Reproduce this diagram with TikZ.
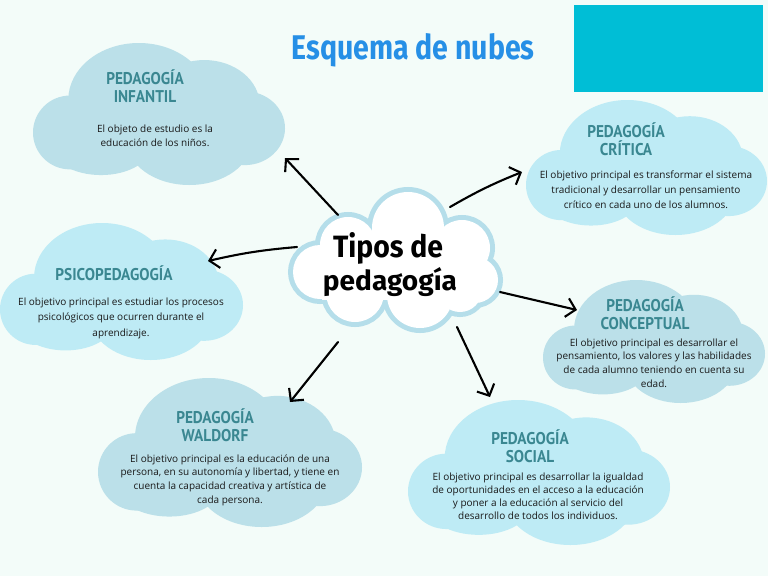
\documentclass[tikz,border=0pt]{standalone}
\usepackage{fontspec}
\setmainfont{Open Sans}
\newfontfamily\headfont[FakeStretch=0.9]{PT Sans}
\newfontfamily\titlefont{Fira Sans}
\usetikzlibrary{arrows.meta}
\definecolor{bg}{RGB}{243,252,249}
\definecolor{cloudA}{RGB}{187,224,233}
\definecolor{cloudB}{RGB}{190,235,245}
\definecolor{headc}{RGB}{58,135,145}
\definecolor{ringc}{RGB}{181,222,234}
\definecolor{titlec}{RGB}{38,143,230}
\definecolor{boxc}{RGB}{0,190,214}
\definecolor{txt}{RGB}{25,25,25}
\newcommand{\cloudbody}[5]{%
  \begin{scope}[shift={(#1,#2)},x=#3pt,y=-#4pt]
    \fill[#5] (0.147,0.63) ellipse[x radius=0.147,y radius=0.26];
    \fill[#5] (0.42,0.40) ellipse[x radius=0.28,y radius=0.40];
    \fill[#5] (0.68,0.44) ellipse[x radius=0.22,y radius=0.32];
    \fill[#5] (0.84,0.60) ellipse[x radius=0.16,y radius=0.26];
    \fill[#5] (0.27,0.72) ellipse[x radius=0.20,y radius=0.21];
    \fill[#5] (0.62,0.68) ellipse[x radius=0.25,y radius=0.32];
    \fill[#5] (0.15,0.40) rectangle (0.85,0.85);
  \end{scope}}
\tikzset{
  headtxt/.style={font=\headfont\bfseries\fontsize{17}{18}\selectfont, text=headc, align=center, inner sep=0pt},
  bodytxt/.style={font=\fontsize{10}{#1}\selectfont, text=txt, align=center, inner sep=0pt},
  arr/.style={draw=black, line width=2.1pt, line cap=round, -{Straight Barb[length=9pt,width=19pt,line width=2.1pt]}},
}
\begin{document}
\begin{tikzpicture}[x=1pt,y=-1pt]
\fill[bg] (0,0) rectangle (768,576);
\useasboundingbox (0,0) rectangle (768,576);

% title and box
\node[anchor=base, text=titlec, inner sep=0pt] (title) at (413,59)
  {\resizebox{243pt}{26pt}{\titlefont\bfseries Esquema de nubes}};
\fill[boxc] (574,5) rectangle (763,92);

% clouds
\cloudbody{33}{43}{252}{142}{cloudA}
\cloudbody{526}{100}{241}{135}{cloudB}
\cloudbody{0}{223}{243}{137}{cloudB}
\cloudbody{543}{280}{222}{123}{cloudA}
\cloudbody{98}{378}{264}{149}{cloudA}
\cloudbody{408}{400}{262}{145}{cloudB}

% centre cloud (ring)
\begin{scope}
  \foreach \cx/\cy/\r in {320/272/27, 348/245/28, 408/228/36, 462/248/28, 475/280/23, 460/290/22, 420/295/33, 355/293/29}
    \draw[ringc, line width=10pt] (\cx,\cy) circle[radius=\r];
  \foreach \cx/\cy/\r in {320/272/27, 348/245/28, 408/228/36, 462/248/28, 475/280/23, 460/290/22, 420/295/33, 355/293/29}
    \fill[white] (\cx,\cy) circle[radius=\r];
  \fill[white] (322,240) rectangle (470,300);
\end{scope}
\node[anchor=base, text=black, inner sep=0pt] (tipos1) at (388,257)
  {\resizebox{110pt}{25pt}{\titlefont\bfseries Tipos de}};
\node[anchor=base, text=black, inner sep=0pt] (tipos2) at (390,290)
  {\resizebox{134pt}{23pt}{\titlefont\bfseries pedagogía}};

% texts
\node[headtxt] (h1) at (145,86) {PEDAGOGÍA\\INFANTIL};
\node[bodytxt=14] (b1) at (155,135.6) {El objeto de estudio es la\\educación de los niños.};

\node[headtxt] (h2) at (626,139) {PEDAGOGÍA\\CRÍTICA};
\node[bodytxt=15] (b2) at (646,189.6) {El objetivo principal es transformar el sistema\\tradicional y desarrollar un pensamiento\\crítico en cada uno de los alumnos.};

\node[headtxt] (h3) at (114,273.5) {PSICOPEDAGOGÍA};
\node[bodytxt=15.5] (b3) at (121,318) {El objetivo principal es estudiar los procesos\\psicológicos que ocurren durante el\\aprendizaje.};

\node[headtxt] (h4) at (645,313.5) {PEDAGOGÍA\\CONCEPTUAL};
\node[bodytxt=13.7] (b4) at (654,363) {El objetivo principal es desarrollar el\\pensamiento, los valores y las habilidades\\de cada alumno teniendo en cuenta su\\edad.};

\node[headtxt] (h5) at (215,425) {PEDAGOGÍA\\WALDORF};
\node[bodytxt=13.7] (b5) at (230,480) {El objetivo principal es la educación de una\\persona, en su autonomía y libertad, y tiene en\\cuenta la capacidad creativa y artística de\\cada persona.};

\node[headtxt] (h6) at (530,446.5) {PEDAGOGÍA\\SOCIAL};
\node[bodytxt=13] (b6) at (538,496) {El objetivo principal es desarrollar la igualdad\\de oportunidades en el acceso a la educación\\y poner a la educación al servicio del\\desarrollo de todos los individuos.};

% arrows
\coordinate (s1) at (338,215); \coordinate (e1) at (285,158);
\coordinate (s2) at (450,207); \coordinate (e2) at (522,172);
\coordinate (s3) at (297,247); \coordinate (e3) at (208,261);
\coordinate (s4) at (500,292); \coordinate (e4) at (577,310);
\coordinate (s5) at (338,342); \coordinate (e5) at (290,402);
\coordinate (s6) at (457,327); \coordinate (e6) at (490,397);
\draw[arr] (s1) -- (e1);
\draw[arr] (s2) to[bend left=4] (e2);
\draw[arr] (s3) to[bend right=4] (e3);
\draw[arr] (s4) -- (e4);
\draw[arr] (s5) -- (e5);
\draw[arr] (s6) -- (e6);
\end{tikzpicture}
\end{document}
